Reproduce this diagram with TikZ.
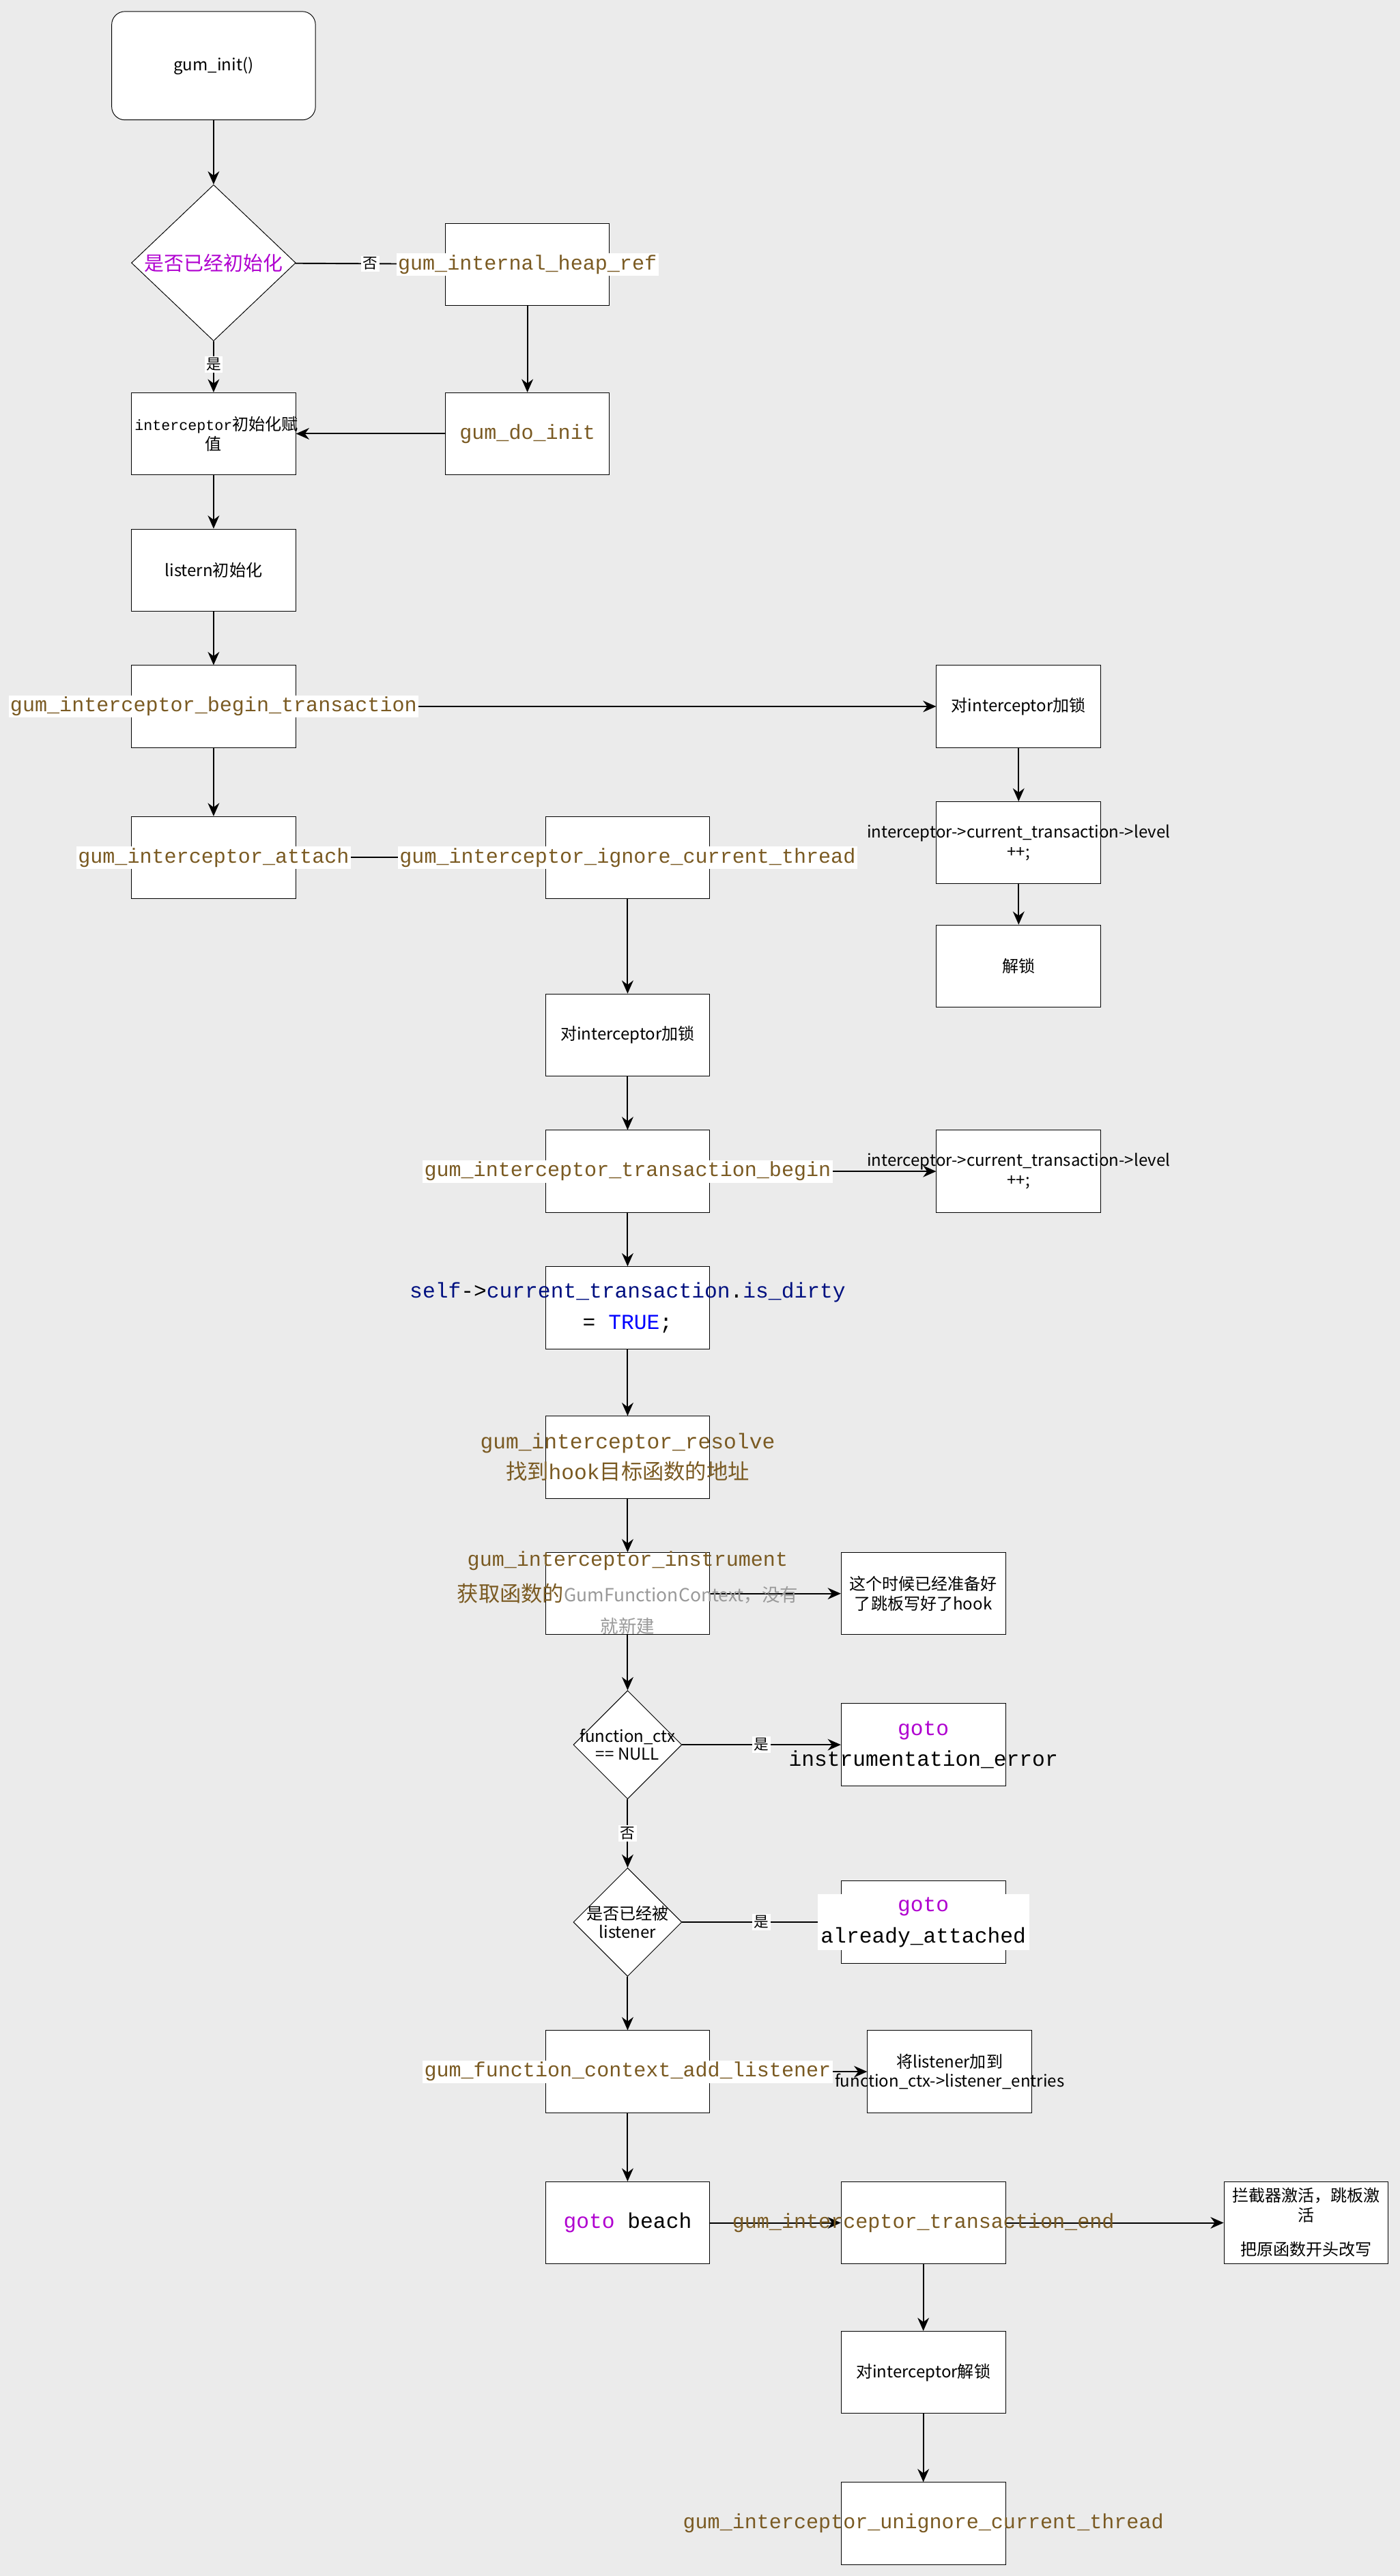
\documentclass[tikz,border=0pt]{standalone}
\usepackage{fontspec}
\setmainfont{Liberation Sans}
\setmonofont{Liberation Mono}
\newfontfamily\cjk{Noto Sans CJK SC}
\usetikzlibrary{shapes.geometric,arrows.meta}
\definecolor{bg}{HTML}{EBEBEB}
\definecolor{brn}{HTML}{7A5A22}
\definecolor{pur}{HTML}{B000D0}
\definecolor{nav}{HTML}{001080}
\definecolor{gry}{HTML}{999999}
\begin{document}
\begin{tikzpicture}[x=1pt,y=-1pt,
 box/.style={draw,fill=white,minimum width=100pt,minimum height=50pt,inner sep=0pt,font=\cjk\fontsize{10}{12}\selectfont,align=center},
 dia/.style={draw,fill=white,diamond,inner sep=0pt,font=\cjk\fontsize{10}{11}\selectfont,align=center},
 lab/.style={font=\ttfamily\fontsize{12.5}{15}\selectfont,text=brn,inner sep=1pt},
 wlab/.style={lab,fill=white},
 el/.style={fill=white,inner sep=1pt,font=\cjk\fontsize{9}{10}\selectfont},
 arr/.style={-{Stealth[length=8pt,width=7pt]},line width=0.8pt},
 ln/.style={line width=0.8pt}]
\fill[bg] (0,0) rectangle (852,1568);
\useasboundingbox (0,0) rectangle (852,1568);
% nodes
\node[box,rounded corners=8pt,minimum width=124pt,minimum height=66pt] (init) at (130,40) {gum\_init()};
\node[dia,minimum width=100pt,minimum height=90pt,font=\cjk\fontsize{12}{14}\selectfont,text=pur] (d1) at (130,160) {是否已经初始化};
\node[box] (heap) at (321,161) {};
\node[box] (doinit) at (321,264) {};
\node[box,text width=96pt] (ia) at (130,264) {{\ttfamily\fontsize{9}{12}\selectfont interceptor}初始化赋\\值};
\node[box] (lis) at (130,347) {listern初始化};
\node[box] (begin) at (130,430) {};
\node[box] (lock1) at (620,430) {对interceptor加锁};
\node[box] (lvl1) at (620,513) {};
\node[box] (unl1) at (620,588) {解锁};
\node[box] (att) at (130,522) {};
\node[box] (ign) at (382,522) {};
\node[box] (lock2) at (382,630) {对interceptor加锁};
\node[box] (tb) at (382,713) {};
\node[box] (lvl2) at (620,713) {};
\node[box] (dirty) at (382,796) {};
\node[box] (res) at (382,887) {};
\node[box] (ins) at (382,970) {};
\node[box] (prep) at (562,970) {这个时候已经准备好\\了跳板写好了hook};
\node[dia,minimum width=66pt,minimum height=66pt] (d2) at (382,1062) {};
\node[box] (err) at (562,1062) {};
\node[dia,minimum width=66pt,minimum height=66pt] (d3) at (382,1170) {};
\node[box] (atd) at (562,1170) {};
\node[box] (addl) at (382,1261) {};
\node[box] (ent) at (578,1261) {};
\node[box] (beach) at (382,1353) {\ttfamily\fontsize{13}{15}\selectfont\textcolor{pur}{goto} beach};
\node[box] (tend) at (562,1353) {};
\node[box] (act) at (795,1353) {};
\node[box] (unl2) at (562,1444) {对interceptor解锁};
\node[box] (unig) at (562,1536) {};
% edges
\draw[arr] (init) -- (d1);
\draw[arr] (d1) -- (heap) node[el,pos=0.5] {否};
\draw[arr] (heap) -- (doinit);
\draw[arr] (d1) -- (ia) node[el,pos=0.45] {是};
\draw[arr] (doinit) -- (ia);
\draw[arr] (ia) -- (lis);
\draw[arr] (lis) -- (begin);
\draw[arr] (begin) -- (lock1);
\draw[arr] (lock1) -- (lvl1);
\draw[arr] (lvl1) -- (unl1);
\draw[arr] (begin) -- (att);
\draw[arr] (att) -- (ign);
\draw[arr] (ign) -- (lock2);
\draw[arr] (lock2) -- (tb);
\draw[arr] (tb) -- (lvl2);
\draw[arr] (tb) -- (dirty);
\draw[arr] (dirty) -- (res);
\draw[arr] (res) -- (ins);
\draw[arr] (ins) -- (prep);
\draw[arr] (ins) -- (d2);
\draw[arr] (d2) -- (err) node[el,pos=0.5] {是};
\draw[arr] (d2) -- (d3) node[el,pos=0.5] {否};
\draw[arr] (d3) -- (atd) node[el,pos=0.5] {是};
\draw[arr] (d3) -- (addl);
\draw[arr] (addl) -- (ent);
\draw[arr] (addl) -- (beach);
\draw[arr] (beach) -- (tend);
\draw[arr] (tend) -- (act);
\draw[arr] (tend) -- (unl2);
\draw[arr] (unl2) -- (unig);
% labels
\node[wlab] (lheap) at (heap.center) {gum\_internal\_heap\_ref};
\node[lab] (ldo) at (doinit.center) {gum\_do\_init};
\node[wlab] (lbeg) at (begin.center) {gum\_interceptor\_begin\_transaction};
\node[wlab] (latt) at (att.center) {gum\_interceptor\_attach};
\node[wlab] (lign) at (ign.center) {gum\_interceptor\_ignore\_current\_thread};
\node[font=\cjk\fontsize{10}{12}\selectfont,align=center] (llv1) at (lvl1.center) {interceptor->current\_transaction->level\\++;};
\node[wlab] (ltb) at (tb.center) {gum\_interceptor\_transaction\_begin};
\node[font=\cjk\fontsize{10}{12}\selectfont,align=center] (llv2) at (lvl2.center) {interceptor->current\_transaction->level\\++;};
\node[lab,text=black,align=center,font=\ttfamily\fontsize{13}{19}\selectfont] (ldirty) at (dirty.center) {\textcolor{nav}{self}->\textcolor{nav}{current\_transaction}.\textcolor{nav}{is\_dirty}\\= \textcolor{blue}{TRUE};};
\node[lab,align=center,font=\ttfamily\fontsize{13}{19}\selectfont] (lres) at (res.center) {gum\_interceptor\_resolve\\{\cjk 找到}hook{\cjk 目标函数的地址}};
\node[lab] (lins1) at (382,950) {gum\_interceptor\_instrument};
\node[lab,font=\cjk\fontsize{13}{15}\selectfont] (lins2) at (382,970) {获取函数的{\fontsize{11}{13}\selectfont\itshape\color{gry}GumFunctionContext，没有}};
\node[lab,font=\cjk\itshape\fontsize{11}{13}\selectfont,text=gry] (lins3) at (382,990) {就新建};
\node[font=\cjk\fontsize{10}{11}\selectfont,align=center] (ld2) at (d2.center) {function\_ctx\\== NULL};
\node[font=\ttfamily\fontsize{13}{19}\selectfont,align=center] (lerr) at (err.center) {\textcolor{pur}{goto}\\instrumentation\_error};
\node[font=\cjk\fontsize{10}{11}\selectfont,align=center] (ld3) at (d3.center) {是否已经被\\listener};
\node[font=\ttfamily\fontsize{13}{19}\selectfont,align=center,fill=white,inner sep=2pt] (latd) at (atd.center) {\textcolor{pur}{goto}\\already\_attached};
\node[wlab] (laddl) at (addl.center) {gum\_function\_context\_add\_listener};
\node[font=\cjk\fontsize{10}{12}\selectfont,align=center] (lent) at (ent.center) {将listener加到\\function\_ctx->listener\_entries};
\node[lab] (ltend) at (tend.center) {gum\_interceptor\_transaction\_end};
\node[font=\cjk\fontsize{10}{12}\selectfont,align=center,anchor=north] (lact1) at (795,1328) {拦截器激活，跳板激\\活};
\node[font=\cjk\fontsize{10}{12}\selectfont] (lact2) at (795,1369) {把原函数开头改写};
\node[lab] (lunig) at (unig.center) {gum\_interceptor\_unignore\_current\_thread};
\end{tikzpicture}
\end{document}
